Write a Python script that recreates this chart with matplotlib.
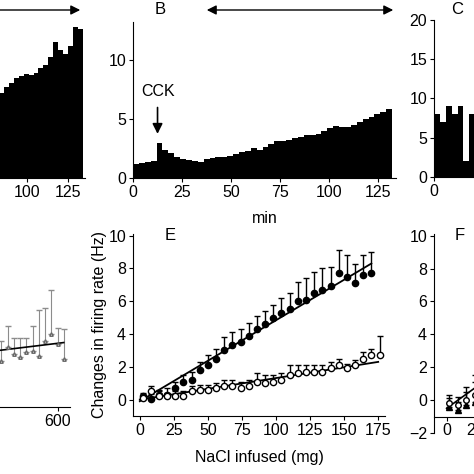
import numpy as np
import matplotlib
matplotlib.use("Agg")
import matplotlib.pyplot as plt

plt.rcParams["font.family"] = ["Liberation Sans", "DejaVu Sans"]
plt.rcParams["font.size"] = 11.5

W = H = 474

# --- panel A (right part only visible), 3-min bins ---
a_t = [77, 80, 83, 86, 89, 92, 95, 98, 101, 104, 107, 110, 113, 116, 119, 122, 125, 128, 131]
a_rate = [6.5, 6.8, 7.2, 7.7, 8.0, 8.5, 8.6, 8.8, 8.7, 8.9, 9.3, 9.6, 10.2, 11.5, 10.8,
          10.5, 11.2, 12.8, 12.6]

# --- panel B, 3-min bins from 0 ---
b_rate = [1.2, 1.3, 1.35, 1.4, 3.0, 2.4, 2.1, 1.8, 1.6, 1.55, 1.45, 1.35,
          1.6, 1.7, 1.75, 1.8, 1.9, 2.0, 2.2, 2.3, 2.5, 2.4, 2.6, 2.9,
          3.1, 3.1, 3.2, 3.4, 3.5, 3.6, 3.6, 3.7, 4.0, 4.2, 4.4, 4.3,
          4.3, 4.5, 4.7, 5.0, 5.2, 5.4, 5.6, 5.8]

# --- panel C, 3-min bins (left part only visible) ---
c_rate = [8, 7, 9, 8, 9, 2, 8, 9, 9, 0, 8, 8, 8, 6, 2]

# --- panel D (right part only visible) ---
d_x = [420, 430, 440, 450, 460, 470, 480, 490, 500, 510, 520, 530, 540, 550, 560,
       570, 580, 590, 600, 610]
d_y = [2.6, 2.2, 2.8, 2.5, 2.9, 2.3, 2.7, 3.0, 2.6, 2.4, 3.2, 2.8, 2.6, 2.9, 3.0,
       2.7, 3.6, 4.0, 3.4, 2.5]
d_err = [1.2, 1.5, 1.8, 3.0, 1.2, 1.3, 1.0, 1.4, 1.1, 1.2, 1.3, 1.0, 1.2, 0.9, 1.5,
         2.8, 2.0, 2.7, 1.0, 1.8]
d_line = [0.68, 3.5]

# --- panel E ---
e_x = [2, 8, 14, 20, 26, 32, 38, 44, 50, 56, 62, 68, 74, 80, 86, 92, 98, 104, 110,
       116, 122, 128, 134, 140, 146, 152, 158, 164, 170]
e_fill = [0.2, 0.05, 0.3, 0.3, 0.7, 1.1, 1.2, 1.8, 2.1, 2.5, 3.0, 3.3, 3.5, 3.9, 4.3,
          4.6, 5.0, 5.3, 5.5, 6.0, 6.1, 6.5, 6.7, 6.9, 7.7, 7.5, 7.1, 7.6, 7.7]
e_fill_err = [0.2, 0.3, 0.3, 0.4, 0.4, 0.4, 0.5, 0.5, 0.6, 0.6, 0.8, 0.8, 0.8, 0.8, 0.8,
              0.8, 0.8, 0.9, 1.0, 1.2, 1.3, 1.3, 1.3, 1.2, 1.4, 1.3, 1.2, 1.2, 1.3]
e_open_x = [2, 8, 14, 20, 26, 32, 38, 44, 50, 56, 62, 68, 74, 80, 86, 92, 98, 104, 110,
            116, 122, 128, 134, 140, 146, 152, 158, 164, 170, 176]
e_open = [0.1, 0.5, 0.2, 0.2, 0.2, 0.2, 0.5, 0.6, 0.6, 0.7, 0.8, 0.8, 0.7, 0.8, 1.1,
          1.0, 1.1, 1.2, 1.5, 1.6, 1.7, 1.7, 1.7, 1.9, 2.1, 1.9, 2.1, 2.5, 2.7, 2.7]
e_open_err = [0.2, 0.3, 0.3, 0.2, 0.3, 0.3, 0.3, 0.3, 0.3, 0.3, 0.4, 0.4, 0.4, 0.4, 0.5,
              0.5, 0.4, 0.4, 0.6, 0.5, 0.4, 0.4, 0.4, 0.4, 0.4, 0.3, 0.3, 0.4, 0.4, 1.2]
e_fill_line = [-0.1, 8.3]
e_open_line = [0.0, 2.3]

# --- panel F (left part only visible) ---
f_x = [2, 8, 14, 20, 26]
f_fill = [-0.4, -0.6, -0.3, -0.1, 0.1]
f_open = [-0.2, -0.3, 0.0, 0.3, 0.6]
f_err = [0.5, 0.5, 0.8, 1.2, 1.5]
f_line = [-0.5, 1.1]


def ax_px(fig, left, top, right, bottom):
    return fig.add_axes([left / W, 1 - bottom / H, (right - left) / W, (bottom - top) / H])


def style(ax):
    for s in ["top", "right"]:
        ax.spines[s].set_visible(False)
    ax.tick_params(direction="out", length=3, width=0.8, pad=2)


fig = plt.figure(figsize=(4.74, 4.74), dpi=100)

# A
ax = ax_px(fig, -137, 22, 85, 178)
style(ax)
ax.bar(a_t, a_rate, width=3, align="edge", color="black")
ax.set_xlim(0, 135.4)
ax.set_ylim(0, 13.2)
ax.set_xticks([0, 25, 50, 75, 100, 125])

# B
ax = ax_px(fig, 133, 22, 396, 178)
style(ax)
ax.bar(np.arange(len(b_rate)) * 3, b_rate, width=3, align="edge", color="black")
ax.set_xlim(0, 134)
ax.set_ylim(0, 13.2)
ax.set_xticks([0, 25, 50, 75, 100, 125])
ax.set_yticks([0, 5, 10])
ax.set_xlabel("min", labelpad=8)
ax.annotate("", xy=(12.5, 3.5), xytext=(12.5, 6.2),
            arrowprops=dict(arrowstyle="-|>", color="black", lw=1.2, mutation_scale=15))
ax.text(13, 7.3, "CCK", ha="center", va="center")

# C
ax = ax_px(fig, 434, 20, 697, 177)
style(ax)
ax.bar(np.arange(len(c_rate)) * 3, c_rate, width=3, align="edge", color="black")
ax.set_xlim(0, 134)
ax.set_ylim(0, 20)
ax.set_xticks([0, 25, 50, 75, 100, 125])
ax.set_yticks([0, 5, 10, 15, 20])

# D
ax = ax_px(fig, -330, 236, 70, 407)
style(ax)
ax.errorbar(d_x, d_y, yerr=[np.zeros(len(d_err)), d_err], fmt="^", ms=2.5,
            color="0.4", mfc="white", ecolor="0.55", elinewidth=0.8, capsize=2)
ax.plot([0, 610], d_line, color="black", lw=1.2)
ax.set_xlim(-20, 620)
ax.set_ylim(-0.43, 10)
ax.set_xticks([0, 200, 400, 600])
ax.spines["left"].set_visible(False)

# E
ax = ax_px(fig, 133, 234, 385, 416)
style(ax)
ax.errorbar(e_x, e_fill, yerr=[np.zeros(len(e_fill)), e_fill_err], fmt="o", ms=4.5,
            color="black", elinewidth=1, capsize=2.5)
ax.errorbar(e_open_x, e_open, yerr=[np.zeros(len(e_open)), e_open_err], fmt="o", ms=4.5,
            color="black", mfc="white", elinewidth=1, capsize=2.5)
ax.plot([0, 170], e_fill_line, color="black", lw=1.3)
ax.plot([0, 175], e_open_line, color="black", lw=1.3)
ax.set_xlim(-5, 180)
ax.set_ylim(-1, 10.1)
ax.set_xticks([0, 25, 50, 75, 100, 125, 150, 175])
ax.set_yticks([0, 2, 4, 6, 8, 10])
ax.set_ylabel("Changes in firing rate (Hz)", labelpad=1)
ax.set_xlabel("NaCl infused (mg)", labelpad=9)
ax.text(18, 10, "E", fontsize=12, va="center")

# F
ax = ax_px(fig, 434, 234, 699, 433)
style(ax)
ax.errorbar(f_x, f_fill, yerr=[np.zeros(len(f_fill)), f_err], fmt="^", ms=4.5,
            color="black", elinewidth=1, capsize=2)
ax.errorbar(f_x, f_open, yerr=[np.zeros(len(f_open)), f_err], fmt="o", ms=4,
            color="black", mfc="white", elinewidth=1, capsize=2)
ax.plot([0, 26], f_line, color="black", lw=1.2)
ax.set_xlim(-9, 180)
ax.set_ylim(-2, 10.1)
ax.set_xticks([0, 20, 40, 60])
ax.set_yticks([-2, 0, 2, 4, 6, 8, 10])
ax.spines["bottom"].set_position(("data", -1))
ax.text(6, 10, "F", fontsize=12, va="center")

# panel letters and period arrows at the top
fig.text(160 / W, 1 - 10 / H, "B", fontsize=12, ha="center", va="center")
fig.text(457 / W, 1 - 10 / H, "C", fontsize=12, ha="center", va="center")
fig.add_artist(matplotlib.patches.FancyArrowPatch(
    (-20 / W, 1 - 10 / H), (83 / W, 1 - 10 / H), transform=fig.transFigure,
    arrowstyle="-|>", mutation_scale=14, color="black", lw=1))
fig.add_artist(matplotlib.patches.FancyArrowPatch(
    (204 / W, 1 - 10 / H), (396 / W, 1 - 10 / H), transform=fig.transFigure,
    arrowstyle="<|-|>", mutation_scale=14, color="black", lw=1))

fig.savefig("out.png", dpi=100)
